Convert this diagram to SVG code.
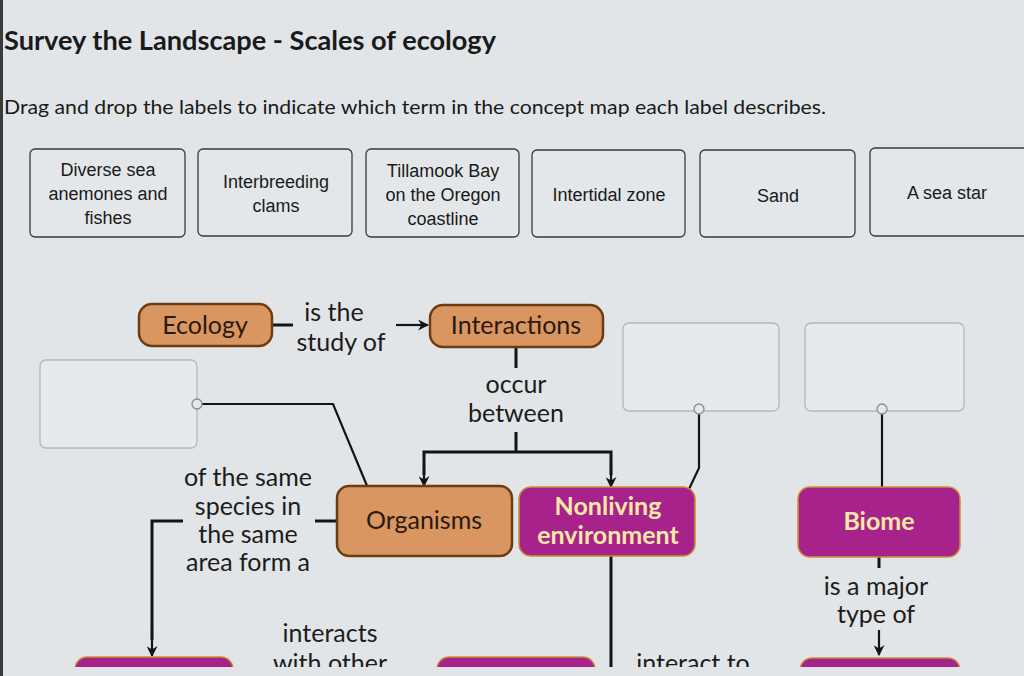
<svg xmlns="http://www.w3.org/2000/svg" width="1024" height="676" viewBox="0 0 1024 676">
<defs>
<style>
.bg{fill:#e1e5e7}
.lbl{fill:#e3e7e9;stroke:#3a3a3a;stroke-width:1.3}
.lt{font-family:"Liberation Sans",Arial,sans-serif;font-size:18px;fill:#1a1a1a;text-anchor:middle}
.drop{fill:#e6eaec;stroke:#b4b8ba;stroke-width:1.3}
.org{fill:#d99660;stroke:#6e3c12;stroke-width:2.5}
.mag{fill:#a8228c;stroke:#c89030;stroke-width:1.5}
.nt{font-family:Lato,"Open Sans",sans-serif;font-size:25px;fill:#2a1a10;text-anchor:middle}
.mt{font-family:Lato,"Open Sans",sans-serif;font-size:25px;font-weight:bold;fill:#f7e8a6;text-anchor:middle}
.ct{font-family:Lato,"Open Sans",sans-serif;font-size:25px;fill:#1c1c1c;text-anchor:middle}
.ln{fill:none;stroke:#141414;stroke-width:2.2}
.lnb{fill:none;stroke:#141414;stroke-width:3}
.hole{fill:#e4e8ea;stroke:#8a8e90;stroke-width:1.3}
</style>
<marker id="ah" viewBox="0 0 10 10" refX="9" refY="5" markerWidth="5" markerHeight="5" orient="auto-start-reverse">
<path d="M0,0 L10,5 L0,10 L3,5 z" fill="#141414"/>
</marker>
<clipPath id="clip"><rect x="0" y="0" width="1024" height="667"/></clipPath>
</defs>
<rect class="bg" x="0" y="0" width="1024" height="676"/>
<rect x="0" y="0" width="3" height="676" fill="#3a3a3a"/>

<text x="4" y="50" font-family="Lato,'Open Sans',sans-serif" font-size="26" font-weight="bold" fill="#1a1a1a" textLength="492" lengthAdjust="spacingAndGlyphs">Survey the Landscape - Scales of ecology</text>
<text x="4" y="114" font-family="Lato,'Open Sans',sans-serif" font-size="19" fill="#1a1a1a" textLength="822" lengthAdjust="spacingAndGlyphs">Drag and drop the labels to indicate which term in the concept map each label describes.</text>

<g id="label-diverse"><rect class="lbl" x="30" y="149" width="155" height="88" rx="5"/>
<text class="lt" x="108" y="176">Diverse sea</text><text class="lt" x="108" y="200">anemones and</text><text class="lt" x="108" y="224">fishes</text></g>
<g id="label-interbreeding"><rect class="lbl" x="198" y="149" width="154" height="87" rx="5"/>
<text class="lt" x="276" y="188">Interbreeding</text><text class="lt" x="276" y="212">clams</text></g>
<g id="label-tillamook"><rect class="lbl" x="366" y="149" width="153" height="88" rx="5"/>
<text class="lt" x="443" y="177">Tillamook Bay</text><text class="lt" x="443" y="201">on the Oregon</text><text class="lt" x="443" y="225">coastline</text></g>
<g id="label-intertidal"><rect class="lbl" x="532" y="150" width="153" height="87" rx="5"/>
<text class="lt" x="609" y="201">Intertidal zone</text></g>
<g id="label-sand"><rect class="lbl" x="700" y="150" width="155" height="87" rx="5"/>
<text class="lt" x="778" y="202">Sand</text></g>
<g id="label-seastar"><rect class="lbl" x="870" y="148" width="160" height="88" rx="5"/>
<text class="lt" x="947" y="199">A sea star</text></g>

<g id="connectors">
<line class="lnb" x1="272" y1="325" x2="293" y2="325"/>
<line class="ln" x1="396" y1="325" x2="428" y2="325" marker-end="url(#ah)"/>
<line class="lnb" x1="516" y1="347" x2="516" y2="368"/>
<line class="lnb" x1="516" y1="432" x2="516" y2="452"/>
<polyline class="lnb" points="424,475 424,452 611,452 611,475"/>
<line class="ln" x1="424" y1="465" x2="424" y2="486" marker-end="url(#ah)"/>
<line class="ln" x1="611" y1="465" x2="611" y2="487" marker-end="url(#ah)"/>
<polyline class="ln" points="202,404 333,404 370,493"/>
<polyline class="ln" points="699,414 699,468 680,508"/>
<line class="ln" x1="882" y1="414" x2="882" y2="488"/>
<line class="lnb" x1="337" y1="521" x2="315" y2="521"/>
<polyline class="lnb" points="183,521 152,521 152,640"/>
<line class="ln" x1="152" y1="630" x2="152" y2="656" marker-end="url(#ah)"/>
<line class="lnb" x1="611" y1="556" x2="611" y2="667"/>
<line class="lnb" x1="879" y1="557" x2="879" y2="568"/>
<line class="ln" x1="879" y1="630" x2="879" y2="655" marker-end="url(#ah)"/>
</g>

<g id="link-labels">
<text class="ct" x="334" y="321">is the</text><text class="ct" x="341" y="351">study of</text>
<text class="ct" x="516" y="393">occur</text><text class="ct" x="516" y="422">between</text>
<text class="ct" x="248" y="486">of the same</text><text class="ct" x="248" y="515">species in</text><text class="ct" x="248" y="543">the same</text><text class="ct" x="248" y="571">area form a</text>
<text class="ct" x="876" y="595">is a major</text><text class="ct" x="876" y="623">type of</text>
<g clip-path="url(#clip)">
<text class="ct" x="330" y="642">interacts</text><text class="ct" x="330" y="672">with other</text>
<text class="ct" x="693" y="672">interact to</text>
</g>
</g>

<g id="node-ecology"><rect class="org" x="139" y="304" width="133" height="42" rx="13"/><text class="nt" x="205" y="334">Ecology</text></g>
<g id="node-interactions"><rect class="org" x="430" y="305" width="173" height="42" rx="13"/><text class="nt" x="516" y="334">Interactions</text></g>
<g id="node-organisms"><rect class="org" x="337" y="486" width="175" height="70" rx="12"/><text class="nt" x="424" y="529">Organisms</text></g>
<g id="node-nonliving"><rect class="mag" x="519" y="487" width="176" height="69" rx="12"/><text class="mt" x="608" y="515">Nonliving</text><text class="mt" x="608" y="544">environment</text></g>
<g id="node-biome"><rect class="mag" x="798" y="487" width="162" height="70" rx="12"/><text class="mt" x="879" y="530">Biome</text></g>

<g id="drop-left"><rect class="drop" x="40" y="360" width="157" height="88" rx="6"/><circle class="hole" cx="197" cy="404" r="5"/></g>
<g id="drop-mid"><rect class="drop" x="623" y="323" width="156" height="88" rx="6"/><circle class="hole" cx="699" cy="409" r="5"/></g>
<g id="drop-right"><rect class="drop" x="805" y="323" width="159" height="88" rx="6"/><circle class="hole" cx="882" cy="409" r="5"/></g>

<g clip-path="url(#clip)">
<g id="node-bottom-left"><rect class="mag" x="75" y="657" width="158" height="60" rx="12"/></g>
<g id="node-bottom-mid"><rect class="mag" x="437" y="657" width="158" height="60" rx="12"/></g>
<g id="node-bottom-right"><rect class="mag" x="800" y="658" width="160" height="60" rx="12"/></g>
</g>
</svg>
